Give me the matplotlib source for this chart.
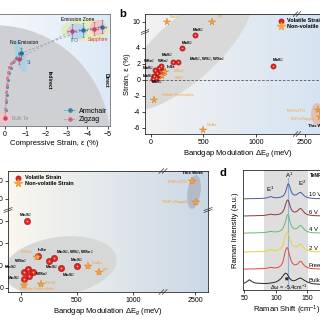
import numpy as np
from matplotlib import pyplot as plt
from matplotlib.patches import Ellipse
from matplotlib.lines import Line2D
from matplotlib.colors import LinearSegmentedColormap

plt.rcParams['font.family'] = ['Liberation Sans', 'DejaVu Sans']
plt.rcParams['mathtext.fontset'] = 'custom'
plt.rcParams['mathtext.rm'] = 'Liberation Sans'
plt.rcParams['mathtext.it'] = 'Liberation Sans:italic'
plt.rcParams['mathtext.bf'] = 'Liberation Sans:bold'
plt.rcParams['font.size'] = 5
plt.rcParams['axes.linewidth'] = 0.5
for k in ('xtick', 'ytick'):
    plt.rcParams[k + '.major.width'] = 0.5
    plt.rcParams[k + '.major.size'] = 2
    plt.rcParams[k + '.major.pad'] = 1.5
    plt.rcParams[k + '.labelsize'] = 5

# ---------------- data: panel a (compressive strain, relative band position) ----------------
a_arm_trail_x = [0.0, -0.03, -0.06, -0.09, -0.12, -0.16, -0.21, -0.28, -0.38, -0.52, -0.76]
a_arm_trail_y = [0.07, 0.14, 0.21, 0.28, 0.35, 0.41, 0.47, 0.52, 0.57, 0.61, 0.65]
a_zig_trail_x = [0.0, -0.01, -0.03, -0.05, -0.08, -0.11, -0.15, -0.2, -0.3, -0.45, -0.66]
a_zig_trail_y = [0.07, 0.15, 0.23, 0.3, 0.37, 0.43, 0.48, 0.53, 0.56, 0.58, 0.6]
a_arm_x = [-0.76, -3.8, -4.7]
a_arm_y = [0.65, 0.857, 0.887]
a_zig_x = [-0.66, -3.23, -4.34]
a_zig_y = [0.6, 0.85, 0.87]
a_xerr = [0.12, 0.2, 0.2]
a_yerr = [0.05, 0.06, 0.06]
a_bulk = (0.0, 0.07)

# ---------------- data: panel b ----------------
b_vol_E = [420, 300, 207, 260, 1165, 40, 80, 100, 60, 30, 90, 50, 20, 110]
b_vol_s = [5.6, 4.0, 2.2, 2.2, 1.75, 1.3, 1.5, 1.7, 0.9, 0.5, 0.6, 0.2, 0.1, 1.1]
b_non_E = [150, 585, 135, 105, 32, 500, 2624, 2640]
b_non_s = [10.0, 10.0, 1.0, 0.5, -2.5, -6.2, -3.75, -4.6]

# ---------------- data: panel c ----------------
c_vol_E = [56, 155, 253, 295, 354, 497, 27, 66, 104, 75, 27]
c_vol_v = [30, 14.2, 12, 13.3, 9, 10, 7, 8.5, 7.1, 5.5, 4.2]
c_non_E = [140, 595, 700, 178, 27, 2473, 2509]
c_non_v = [14, 9.7, 7, 1.8, 1.2, 69.6, 58.5]

# ---------------- data: panel d (Raman spectra) ----------------
d_shift = [50, 54, 58, 62, 66, 70, 75, 80, 85, 88, 90, 92, 94, 97, 100, 104, 108, 111, 113, 115,
           117, 118, 119, 120, 121, 122, 124, 126, 129, 132, 135, 137, 139, 141, 143, 146, 150,
           155, 160, 167, 175, 185]
d_labels = ['Bulk', 'Free', '2 V', '4 V', '6 V', '10 V']
d_colors = ['#262626', '#e04a3c', '#e6d43a', '#62bd6e', '#8a3c3c', '#4b5aa6']
d_offsets = [0.0, 0.9, 1.9, 3.0, 4.0, 5.0]
d_int = [
    [0.10, 0.18, 0.30, 0.20, 0.12, 0.10, 0.09, 0.08, 0.08, 0.09, 0.10, 0.11, 0.12, 0.14, 0.17, 0.24,
     0.36, 0.50, 0.60, 0.68, 0.66, 0.62, 0.57, 0.50, 0.44, 0.38, 0.30, 0.25, 0.24, 0.28, 0.34, 0.38,
     0.40, 0.37, 0.32, 0.25, 0.17, 0.10, 0.06, 0.04, 0.03, 0.03],
    [0.02, 0.02, 0.03, 0.03, 0.03, 0.04, 0.04, 0.05, 0.07, 0.09, 0.11, 0.12, 0.11, 0.09, 0.09, 0.12,
     0.22, 0.40, 0.70, 1.05, 1.25, 1.28, 1.22, 1.10, 0.95, 0.80, 0.55, 0.38, 0.28, 0.27, 0.33, 0.42,
     0.48, 0.44, 0.33, 0.20, 0.11, 0.06, 0.04, 0.03, 0.03, 0.03],
    [0.02, 0.02, 0.03, 0.03, 0.03, 0.04, 0.04, 0.05, 0.08, 0.11, 0.14, 0.16, 0.14, 0.11, 0.10, 0.13,
     0.22, 0.38, 0.62, 0.95, 1.15, 1.19, 1.17, 1.10, 0.98, 0.85, 0.62, 0.44, 0.33, 0.32, 0.37, 0.44,
     0.47, 0.43, 0.33, 0.21, 0.12, 0.07, 0.04, 0.03, 0.03, 0.03],
    [0.02, 0.02, 0.03, 0.03, 0.03, 0.04, 0.04, 0.05, 0.07, 0.09, 0.11, 0.12, 0.11, 0.09, 0.09, 0.11,
     0.17, 0.28, 0.42, 0.65, 0.92, 1.04, 1.10, 1.06, 0.95, 0.78, 0.52, 0.36, 0.27, 0.27, 0.33, 0.42,
     0.47, 0.43, 0.33, 0.20, 0.11, 0.06, 0.04, 0.03, 0.03, 0.03],
    [0.02, 0.02, 0.03, 0.03, 0.03, 0.04, 0.04, 0.05, 0.07, 0.09, 0.11, 0.12, 0.11, 0.09, 0.09, 0.11,
     0.16, 0.26, 0.40, 0.62, 0.85, 0.93, 0.95, 0.91, 0.82, 0.68, 0.46, 0.32, 0.25, 0.26, 0.33, 0.41,
     0.46, 0.42, 0.32, 0.19, 0.10, 0.06, 0.04, 0.03, 0.03, 0.03],
    [0.02, 0.02, 0.03, 0.03, 0.03, 0.04, 0.04, 0.05, 0.07, 0.10, 0.13, 0.15, 0.13, 0.09, 0.08, 0.09,
     0.12, 0.17, 0.24, 0.38, 0.60, 0.74, 0.86, 0.90, 0.85, 0.74, 0.50, 0.33, 0.24, 0.25, 0.31, 0.37,
     0.40, 0.36, 0.27, 0.17, 0.10, 0.06, 0.04, 0.03, 0.03, 0.03],
]

W = 320
RED = '#e3211c'
ORANGE = '#f2a33a'


def box(l, t, r, b):
    return [l / W, 1 - b / W, (r - l) / W, (b - t) / W]


def gradient(ax, c0, c1, z=0):
    cmap = LinearSegmentedColormap.from_list('g', [c0, c1])
    ax.imshow(np.linspace(0, 1, 256)[None, :], extent=[0, 1, 0, 1], transform=ax.transAxes,
              aspect='auto', cmap=cmap, zorder=z)


def brk(v, src, dst):
    return np.interp(v, src, dst)


def break_marks(ax, pos, axis='x'):
    kw = dict(transform=ax.transAxes, clip_on=False, color='#333333', lw=0.5, zorder=10)
    d = 0.012
    for side in (0, 1):
        for off in (-0.008, 0.008):
            if axis == 'x':
                ax.plot([pos + off - d, pos + off + d], [side - 0.02, side + 0.02], **kw)
            else:
                ax.plot([side - 0.02, side + 0.02], [pos + off - d, pos + off + d], **kw)


def volatile(ax, x, y, size):
    ax.plot(x, y, 'o', ms=size, color=RED, mec='#8a0a0a', mew=0.3, zorder=5)
    ax.plot(x, y, 'o', ms=size * 0.3, color='#ffb0a8', mec='none', zorder=6)


def nonvolatile(ax, x, y, size):
    ax.plot(x, y, '*', ms=size, color=ORANGE, mec='#d77a18', mew=0.3, zorder=5)


fig = plt.figure(figsize=(3.2, 3.2), dpi=100)

# ======================= panel a =======================
axa = fig.add_axes(box(-2, 14, 110, 126))
gradient(axa, '#f5f9fc', '#dce9f5')
axa.add_patch(Ellipse((0.49, -0.125), 11.2, 2.05, color='#cfd0d3', zorder=1, lw=0))
axa.add_patch(Ellipse((-3.9, 0.857), 2.35, 0.2, color='#e4ecbf', zorder=2, lw=0))
axa.add_patch(Ellipse((-3.5, 0.845), 0.95, 0.14, color='#bcd6ee', zorder=2, lw=0))
axa.add_patch(Ellipse((-4.52, 0.877), 0.78, 0.14, color='#f2c5c5', zorder=2, lw=0))
axa.add_patch(Ellipse((-0.75, 0.625), 0.62, 0.22, angle=20, color='#a9d1e2', zorder=2, lw=0))
axa.add_patch(plt.Rectangle((a_bulk[0] - 0.25, a_bulk[1] - 0.045), 0.5, 0.09,
                            color='#f1c3c3', zorder=2, lw=0))
axa.plot(a_arm_trail_x, a_arm_trail_y, ls=(0, (2, 1.5)), lw=0.5, color='#4c8eb0',
         marker='o', ms=1.2, zorder=3)
axa.plot(a_zig_trail_x, a_zig_trail_y, ls=(0, (2, 1.5)), lw=0.5, color='#d87b86',
         marker='o', ms=1.2, zorder=3)
axa.plot(a_arm_x, a_arm_y, ls=(0, (3, 2)), lw=0.6, color='#8fa3b8', zorder=3)
axa.plot(a_zig_x, a_zig_y, ls=(0, (3, 2)), lw=0.6, color='#a8a8b8', zorder=3)
axa.errorbar(a_arm_x, a_arm_y, xerr=a_xerr, yerr=a_yerr, fmt='o', ms=2.2, color='#2f6f95',
             elinewidth=0.4, capsize=0.8, capthick=0.4, zorder=4)
axa.errorbar(a_zig_x, a_zig_y, xerr=a_xerr, yerr=a_yerr, fmt='o', ms=2.2, color='#c2456a',
             elinewidth=0.4, capsize=0.8, capthick=0.4, zorder=4)
axa.plot(*a_bulk, 'o', ms=2.2, color='#c2456a', zorder=4)
axa.text(-3.55, 0.955, 'Emission Zone', fontsize=3.6, ha='center', va='center', zorder=6)
axa.text(-0.95, 0.745, 'No Emission', fontsize=3.6, ha='center', va='center', zorder=6)
axa.text(-3.4, 0.76, 'ITO', fontsize=3.6, color='#3f73b8', ha='center', va='center', zorder=6)
axa.text(-4.5, 0.77, 'Sapphire', fontsize=3.6, color='#d63a3a', ha='center', va='center', zorder=6)
axa.text(-1.17, 0.57, 'Si', fontsize=3.6, color='#3f73b8', ha='center', va='center', zorder=6)
axa.text(-0.35, 0.07, 'Bulk Te', fontsize=3.6, color='#909090', ha='left', va='center', zorder=6)
axa.text(-2.15, 0.41, 'Indirect', fontsize=3.6, fontweight='bold', rotation=270,
         ha='center', va='center', zorder=6)
axa.text(-4.92, 0.41, 'Direct', fontsize=3.6, fontweight='bold', rotation=270,
         ha='center', va='center', zorder=6)
hl = [Line2D([], [], ls=(0, (2, 1.5)), lw=0.6, color='#4c8eb0', marker='o', ms=2.5,
             mfc='#2f6f95', label='Armchair'),
      Line2D([], [], ls=(0, (2, 1.5)), lw=0.6, color='#d87b86', marker='o', ms=2.5,
             mfc='#c2456a', label='Zigzag')]
axa.legend(handles=hl, loc='lower right', frameon=False, fontsize=5, handlelength=1.8,
           handletextpad=0.4, labelspacing=0.2, borderpad=0.2, borderaxespad=0.2)
axa.set_xlim(0.34, -5.1)
axa.set_ylim(0, 1)
axa.set_xticks([0, -1, -2, -3, -4, -5])
axa.set_yticks([])
axa.set_xlabel('Compressive Strain, ε (%)', fontsize=5.5, labelpad=1.5)
for s in axa.spines.values():
    s.set_color('#555555')

# ======================= panel b =======================
bx_src, bx_dst = [-200, 1390, 2424, 3000], [-200, 1390, 1390, 1966]
by_src, by_dst = [-8, 6.0, 8.75, 12], [-8, 6.0, 6.0, 9.25]
axb = fig.add_axes(box(145, 14, 330, 134))
gradient(axb, '#f2f2f2', '#d4e3f1')
axb.add_patch(Ellipse((186 / W, 1 - 50 / W), 168 / W, 62 / W, angle=42, transform=fig.transFigure,
                      color='#d9d9d9', zorder=1, lw=0, clip_path=axb.patch))
axb.add_patch(Ellipse((317 / W, 1 - 114 / W), 12 / W, 22 / W, transform=fig.transFigure,
                      color='#e7b9a0', alpha=0.8, zorder=1, lw=0, clip_path=axb.patch))
axb.axhline(0, color='#555555', lw=0.6, ls=(0, (3, 2)), zorder=2)
volatile(axb, brk(b_vol_E, bx_src, bx_dst), brk(b_vol_s, by_src, by_dst), 3.8)
nonvolatile(axb, brk(b_non_E, bx_src, bx_dst), brk(b_non_s, by_src, by_dst), 5.5)


def bpx(px, py):
    return (px - 151) / 0.105, (80 - py) / 8


b_labels = [
    (175, 17, 'MoS$_2$', ORANGE), (220, 17, 'BP', ORANGE), (198, 30, 'MoS$_2$', 'k'),
    (187, 43, 'MoS$_2$', 'k'), (167, 55, 'MoS$_2$', 'k'), (207, 59, 'MoS$_2$, WS$_2$, WSe$_2$', 'k'),
    (278, 60, 'MoS$_2$', 'k'), (149, 61.5, 'WSe$_2$', 'k'), (163, 61.5, 'WSe$_2$', 'k'),
    (171, 66.5, 'InSe', 'k'), (148, 68.5, 'MoS$_2$', 'k'), (179, 71, 'WSe$_2$', ORANGE),
    (179, 78.5, 'WS$_2$', ORANGE), (148, 76, 'MoS$_2$', 'k'), (157, 82, 'MoS$_2$', 'k'),
    (178, 95, 'Halide Perovskite', ORANGE), (212, 125, 'GaAs', ORANGE),
    (296, 111, 'TeNFs/ITO', ORANGE), (303, 119, 'TeNFs/Sapph.', ORANGE), (318, 126, 'This Work', 'k'),
]
for px, py, t, c in b_labels:
    axb.text(*bpx(px, py), t, fontsize=3, color=c, ha='center', va='center',
             fontweight='bold' if c == 'k' else 'normal', zorder=7)
bh = [Line2D([], [], ls='none', marker='o', ms=3.8, color=RED, mec='#8a0a0a', mew=0.3,
             label='Volatile Strain'),
      Line2D([], [], ls='none', marker='*', ms=5.5, color=ORANGE, label='Non-volatile Strain')]
axb.legend(handles=bh, loc='upper left', bbox_to_anchor=(0.68, 1.0), frameon=False,
           handletextpad=0.2, labelspacing=0.15, borderpad=0.3, prop={'weight': 'bold', 'size': 4})
axb.set_xlim(-57, brk(2739, bx_src, bx_dst))
axb.set_ylim(-6.75, brk(11.0, by_src, by_dst))
axb.set_xticks(brk([0, 500, 1000, 2500], bx_src, bx_dst), ['0', '500', '1000', '2500'])
axb.set_yticks(brk([-6, -4, -2, 0, 2, 4, 10], by_src, by_dst), ['-6', '-4', '-2', '0', '2', '4', '10'])
axb.set_xlabel('Bandgap Modulation ΔE$_g$ (meV)', fontsize=5.5, labelpad=1.5)
axb.set_ylabel('Strain, ε (%)', fontsize=5.5, labelpad=1)
break_marks(axb, (297 - 145) / 185, 'x')
break_marks(axb, (134 - 32) / 120, 'y')
fig.text(123 / W, 1 - 14 / W, 'b', fontsize=8, fontweight='bold', ha='center', va='center')

# ======================= panel c =======================
cx_src, cx_dst = [-200, 1268, 2214, 3000], [-200, 1268, 1268, 2054]
cy_src, cy_dst = [-5, 35.45, 54.44, 80], [-5, 35.45, 35.45, 56.4]
axc = fig.add_axes(box(8, 171, 208, 292))
gradient(axc, '#faf7ef', '#cad8e6')
axc.add_patch(Ellipse((60 / W, 1 - 266 / W), 114 / W, 58 / W, angle=8, transform=fig.transFigure,
                      color='#d6d8d8', zorder=1, lw=0, clip_path=axc.patch))
axc.add_patch(Ellipse((194 / W, 1 - 192 / W), 13 / W, 34 / W, angle=-8, transform=fig.transFigure,
                      color='#b5b9c6', zorder=1, lw=0, clip_path=axc.patch))
volatile(axc, brk(c_vol_E, cx_src, cx_dst), brk(c_vol_v, cy_src, cy_dst), 4.6)
nonvolatile(axc, brk(c_non_E, cx_src, cx_dst), brk(c_non_v, cy_src, cy_dst), 6)


def cpx(px, py):
    return (px - 21) / 0.112, (288 - py) / 2.2


c_labels = [
    (25, 216, 'MoS$_2$', 'k'), (42, 251, 'InSe', 'k'), (27, 253, 'WSe$_2$', ORANGE),
    (75, 253, 'MoS$_2$, WS$_2$, WSe$_2$', 'k'), (21, 262, 'WSe$_2$', 'k'), (51, 267.5, 'MoS$_2$', 'k'),
    (76, 261, 'MoS$_2$', 'k'), (10, 267, 'MoS$_2$', 'k'), (42, 274, 'WSe$_2$', 'k'),
    (68, 275, 'MoS$_2$', 'k'), (13, 278, 'MoS$_2$', 'k'), (97, 263, 'GaAs', ORANGE),
    (106, 270, 'BP', ORANGE), (50, 283, 'MoS$_2$', ORANGE), (37, 289, 'Halide Perovskite', ORANGE),
    (192, 175, 'This Work', 'k'), (177, 183, 'TeNFs/ITO', ORANGE), (176, 203, 'TeNFs/Sapph.', ORANGE),
]
for px, py, t, c in c_labels:
    axc.text(*cpx(px, py), t, fontsize=3.2, color=c, ha='center', va='center',
             fontweight='bold' if c == 'k' else 'normal', zorder=7)
axc.legend(handles=bh, loc='upper left', frameon=False, handletextpad=0.2, labelspacing=0.15,
           borderpad=0.3, prop={'weight': 'bold', 'size': 4})
axc.set_xlim(-116, brk(2616, cx_src, cx_dst))
axc.set_ylim(-1.8, brk(75.2, cy_src, cy_dst))
axc.set_xticks(brk([0, 500, 1000, 2500], cx_src, cx_dst), ['0', '500', '1000', '2500'])
axc.set_yticks(brk([0, 10, 20, 30, 60, 70], cy_src, cy_dst), ['0', '10', '20', '30', '60', '70'])
axc.set_xlabel('Bandgap Modulation ΔE$_g$ (meV)', fontsize=5.5, labelpad=1.5)
break_marks(axc, (163 - 8) / 200, 'x')
break_marks(axc, (292 - 210) / 121, 'y')

# ======================= panel d =======================
axd = fig.add_axes(box(243, 170, 330, 290))
axd.axvspan(81, 151, color='#dedede', lw=0, zorder=0)
axd.plot([120, 120], [-0.3, 6.25], color='#86b5e0', lw=0.8, zorder=1)
for lab, col, off, inten in zip(d_labels, d_colors, d_offsets, d_int):
    axd.plot(d_shift, np.array(inten) + off, color=col, lw=0.7, zorder=2)
    axd.text(152, off + 0.25, lab, fontsize=4.3, ha='left', va='center', zorder=3)
axd.text(154, 6.4, 'TeNFs', fontsize=3.5, fontweight='bold', ha='left', va='center')
axd.text(91, 5.55, 'E$^1$', fontsize=4.5, ha='center', va='center')
axd.text(121, 6.4, 'A$^1$', fontsize=4.5, ha='center', va='center')
axd.text(142, 5.9, 'E$^2$', fontsize=4.5, ha='center', va='center')
axd.annotate('', xy=(114, 0.35), xytext=(121, 0.35),
             arrowprops=dict(arrowstyle='<->', lw=0.4, color='k', shrinkA=0, shrinkB=0))
axd.text(121, -0.12, 'Δω = -5.4cm$^{-1}$', fontsize=4, ha='center', va='center')
axd.set_xlim(48, 186)
axd.set_ylim(-0.3, 6.7)
axd.set_xticks([50, 100, 150])
axd.set_yticks([])
axd.set_xlabel('Raman Shift (cm$^{-1}$)', fontsize=5.5, labelpad=1.5)
axd.set_ylabel('Raman Intensity (a.u.)', fontsize=5.5, labelpad=3)
fig.text(223 / W, 1 - 173 / W, 'd', fontsize=8, fontweight='bold', ha='center', va='center')

fig.savefig('out.png', dpi=100)
